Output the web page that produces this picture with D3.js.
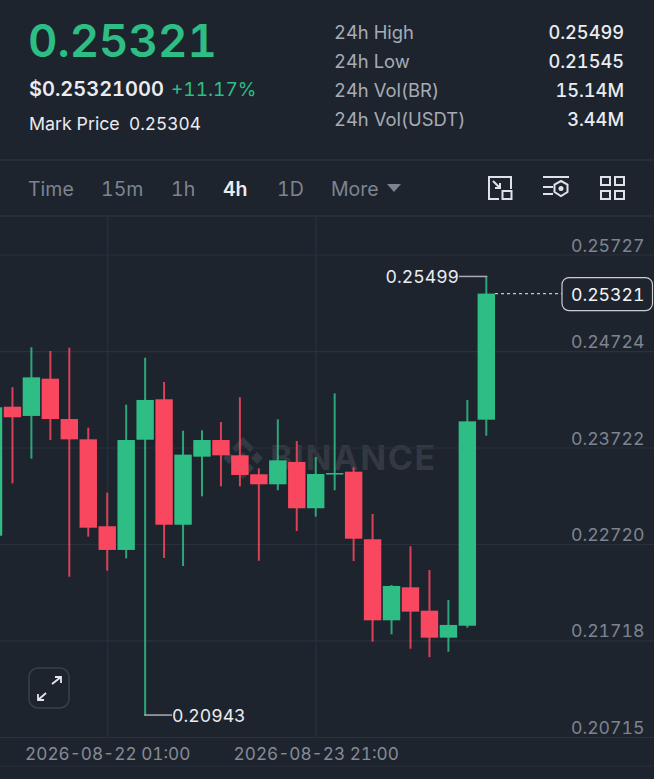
<!DOCTYPE html>
<html>
<head>
<meta charset="utf-8">
<script src="https://cdn.jsdelivr.net/npm/d3@7"></script>
<style>
  html, body { margin: 0; padding: 0; background: #1e242e; overflow: hidden; }
  svg { display: block; font-family: Inter, "Open Sans", sans-serif; font-feature-settings: "tnum" 1; font-variant-numeric: tabular-nums; }
</style>
</head>
<body>
<svg id="chart" width="654" height="779"></svg>
<script>
"use strict";

const candleTimes = ["2026-08-21 01:00", "2026-08-21 05:00", "2026-08-21 09:00", "2026-08-21 13:00", "2026-08-21 17:00",
  "2026-08-21 21:00", "2026-08-22 01:00", "2026-08-22 05:00", "2026-08-22 09:00", "2026-08-22 13:00", "2026-08-22 17:00",
  "2026-08-22 21:00", "2026-08-23 01:00", "2026-08-23 05:00", "2026-08-23 09:00", "2026-08-23 13:00", "2026-08-23 17:00",
  "2026-08-23 21:00", "2026-08-24 01:00", "2026-08-24 05:00", "2026-08-24 09:00", "2026-08-24 13:00", "2026-08-24 17:00",
  "2026-08-24 21:00", "2026-08-25 01:00", "2026-08-25 05:00", "2026-08-25 09:00"];
const openPrices = [0.22806, 0.24146, 0.24050, 0.24437, 0.24018, 0.23807, 0.22904, 0.22658, 0.23803, 0.24223, 0.22920,
  0.23627, 0.23800, 0.23641, 0.23444, 0.23340, 0.23572, 0.23091, 0.23450, 0.23471, 0.22769, 0.21927, 0.22270, 0.22027,
  0.21747, 0.21871, 0.24011];
const highPrices = [0.24140, 0.24348, 0.24763, 0.24725, 0.24759, 0.23928, 0.23253, 0.24167, 0.24655, 0.24403, 0.23897,
  0.23901, 0.23987, 0.24244, 0.23506, 0.24015, 0.23790, 0.23624, 0.24285, 0.23517, 0.23032, 0.22294, 0.22696, 0.22450,
  0.22138, 0.24216, 0.25499];
const lowPrices = [0.22806, 0.23350, 0.23606, 0.23800, 0.22380, 0.22796, 0.22443, 0.22571, 0.20943, 0.22575, 0.22491,
  0.23215, 0.23319, 0.23319, 0.22546, 0.23278, 0.22855, 0.23004, 0.23278, 0.22543, 0.21705, 0.21782, 0.21632, 0.21545,
  0.21601, 0.21851, 0.23845];
const closePrices = [0.24140, 0.24036, 0.24451, 0.24018, 0.23807, 0.22889, 0.22658, 0.23800, 0.24216, 0.22920, 0.23648,
  0.23800, 0.23641, 0.23437, 0.23340, 0.23589, 0.23091, 0.23447, 0.23457, 0.22775, 0.21927, 0.22284, 0.22017, 0.21747,
  0.21879, 0.23994, 0.25321];
const priceTicks = [0.25727, 0.24724, 0.23722, 0.22720, 0.21718, 0.20715];
const timeTicks = ["2026-08-22 01:00", "2026-08-23 21:00"];
const statLabels = ["24h High", "24h Low", "24h Vol(BR)", "24h Vol(USDT)"];
const statValues = ["0.25499", "0.21545", "15.14M", "3.44M"];
const tabLabels = ["Time", "15m", "1h", "4h", "1D", "More"];
const activeTab = "4h";
const lastPrice = 0.25321;
const markPrice = "0.25304";
const usdPrice = "$0.25321000";
const changePct = "+11.17%";
const dayHigh = 0.25499;
const dayLow = 0.20943;

const BG = "#1e242e";
const GREEN = "#2ebd85";
const RED = "#f9475f";
const GRID = "#2b313c";
const parseTime = d3.utcParse("%Y-%m-%d %H:%M");
const formatTime = d3.utcFormat("%Y-%m-%d %H:%M");
const svg = d3.select("#chart");

function label(parent, x, y, str, size, fill, weight, anchor) {
    return parent.append("text")
        .attr("x", x).attr("y", y)
        .attr("font-size", size)
        .attr("fill", fill)
        .attr("font-weight", weight || 400)
        .attr("text-anchor", anchor || "start")
        .text(str);
}

function drawHeader() {
    label(svg, 28, 57, lastPrice.toFixed(5), 45.5, GREEN, 600);
    label(svg, 29, 96, usdPrice, 20, "#eaecef", 600);
    label(svg, 171, 96, changePct, 19, GREEN, 400);
    label(svg, 29, 130, "Mark Price", 17.8, "#eaecef");
    label(svg, 129, 130, markPrice, 17.3, "#eaecef");

    statLabels.forEach((s, i) => {
        label(svg, 334, 39 + i * 29, s, 18.4, "#a6acb6");
        label(svg, 624, 39 + i * 29, statValues[i], 18.2, "#eaecef", 500, "end");
    });

    svg.append("line").attr("x1", 0).attr("x2", 654).attr("y1", 160).attr("y2", 160).attr("stroke", GRID).attr("stroke-width", 1.5);
    svg.append("line").attr("x1", 0).attr("x2", 654).attr("y1", 216).attr("y2", 216).attr("stroke", GRID).attr("stroke-width", 1.5);

    const tabX = [28, 101, 171, 223, 277, 331];
    tabLabels.forEach((t, i) => {
        const on = t === activeTab;
        label(svg, tabX[i], 196, t, 19.5, on ? "#eaecef" : "#7d8490", on ? 600 : 400);
    });
    svg.append("path").attr("d", "M387 184H401L394 192Z").attr("fill", "#7d8490");

    // toolbar icons
    const ic = svg.append("g").attr("fill", "none").attr("stroke", "#dfe2e7").attr("stroke-width", 2);
    ic.append("path").attr("d", "M500 177H511V189M499 199H489V177H500M493 181L500 188M500 183V188H495");
    ic.append("rect").attr("x", 502.5).attr("y", 191).attr("width", 9).attr("height", 8);
    ic.append("path").attr("d", "M543 177H569M543 187H553M543 194H553");
    ic.append("path").attr("d", "M561 181L567.500 184.500V192L561 196L554.500 192V184.500Z");
    ic.append("circle").attr("cx", 561).attr("cy", 188.500).attr("r", 1.5).attr("fill", "#dfe2e7");
    [[601, 177], [615, 177], [601, 191], [615, 191]].forEach(p => {
        ic.append("rect").attr("x", p[0]).attr("y", p[1]).attr("width", 9).attr("height", 8);
    });
}

function drawChart() {
    const times = candleTimes.map(parseTime);
    const xScale = d3.scaleUtc().domain(d3.extent(times)).range([-6.5, 486.3]);
    const yScale = d3.scaleLinear().domain([0.25727, 0.20715]).range([254.5, 737]);
    const bodyW = 17.4;

    // watermark goes under the grid and candles
    const mark = svg.append("g").attr("fill", "#ffffff").attr("fill-opacity", 0.1);
    mark.append("text").attr("x", 270).attr("y", 470).attr("font-size", 34).attr("font-weight", 700)
        .attr("letter-spacing", 1.7).text("BINANCE");
    mark.append("path").attr("d", "M243 437L254 448L250 452L243 445L236 452L232 448Z"
        + "M243 479L254 468L250 464L243 471L236 464L232 468Z"
        + "M243 452L249 458L243 464L237 458Z"
        + "M257 452L263 458L257 464L251 458Z"
        + "M229 452L235 458L229 464L223 458Z");

    const yAxis = d3.axisRight(yScale)
        .tickValues(priceTicks)
        .tickSize(654)
        .tickFormat(d3.format(".5f"));
    const yG = svg.append("g").call(yAxis);
    yG.select(".domain").remove();
    yG.selectAll("line").attr("stroke", GRID).attr("stroke-width", 1.2);
    yG.selectAll("text")
        .attr("x", 644.5).attr("y", -3.5).attr("dy", 0)
        .attr("text-anchor", "end")
        .attr("font-size", 17.7)
        .attr("font-family", "Inter")
        .attr("fill", "#7d8490");

    const xAxis = d3.axisBottom(xScale)
        .tickValues(timeTicks.map(parseTime))
        .tickSize(0)
        .tickFormat(formatTime);
    const xG = svg.append("g").attr("transform", "translate(0,737)").call(xAxis);
    xG.select(".domain").remove();
    xG.selectAll("text")
        .attr("y", 23).attr("dy", 0)
        .attr("font-size", 17.2)
        .attr("font-family", "Inter")
        .attr("fill", "#858b96");
    xG.selectAll(".tick").append("line")
        .attr("y1", 0).attr("y2", -521)
        .attr("stroke", GRID).attr("stroke-width", 1.2);
    svg.append("line").attr("x1", 0).attr("x2", 654).attr("y1", 766).attr("y2", 766).attr("stroke", GRID);

    const candles = times.map((t, i) => ({
        t, open: openPrices[i], high: highPrices[i], low: lowPrices[i], close: closePrices[i]
    }));
    const colorOf = d => d.close >= d.open ? GREEN : RED;

    svg.append("g").selectAll("line").data(candles).join("line")
        .attr("x1", d => xScale(d.t)).attr("x2", d => xScale(d.t))
        .attr("y1", d => yScale(d.high)).attr("y2", d => yScale(d.low))
        .attr("stroke", colorOf).attr("stroke-opacity", 0.85).attr("stroke-width", 2);
    svg.append("g").selectAll("rect").data(candles).join("rect")
        .attr("x", d => xScale(d.t) - bodyW / 2)
        .attr("width", bodyW)
        .attr("y", d => yScale(Math.max(d.open, d.close)))
        .attr("height", d => Math.max(1.5, Math.abs(yScale(d.open) - yScale(d.close))))
        .attr("fill", colorOf);

    // high / low callouts
    const hi = candles[highPrices.indexOf(dayHigh)];
    const lo = candles[lowPrices.indexOf(dayLow)];
    svg.append("line").attr("x1", 459).attr("x2", xScale(hi.t) + 1)
        .attr("y1", yScale(dayHigh)).attr("y2", yScale(dayHigh))
        .attr("stroke", "#a9adb3").attr("stroke-width", 1.5);
    label(svg, 385.5, yScale(dayHigh) + 7, dayHigh.toFixed(5), 17.7, "#eaecef");
    svg.append("line").attr("x1", xScale(lo.t) - 1).attr("x2", 172)
        .attr("y1", yScale(dayLow)).attr("y2", yScale(dayLow))
        .attr("stroke", "#a9adb3").attr("stroke-width", 1.5);
    label(svg, 172, yScale(dayLow) + 7, dayLow.toFixed(5), 17.7, "#eaecef");

    // last price tag
    svg.append("line").attr("x1", 495).attr("x2", 562)
        .attr("y1", yScale(lastPrice)).attr("y2", yScale(lastPrice))
        .attr("stroke", "#c4c7cc").attr("stroke-width", 1.2).attr("stroke-dasharray", "3 3");
    svg.append("rect").attr("x", 562).attr("y", yScale(lastPrice) - 16).attr("width", 90.5).attr("height", 33).attr("rx", 7)
        .attr("fill", BG).attr("stroke", "#c9ccd1").attr("stroke-width", 1.2);
    label(svg, 644.5, yScale(lastPrice) + 7, lastPrice.toFixed(5), 17.7, "#f2f3f5", 400, "end");

    // expand button
    svg.append("rect").attr("x", 29).attr("y", 668).attr("width", 40).attr("height", 40).attr("rx", 9)
        .attr("fill", "none").attr("stroke", "#39404c").attr("stroke-width", 1.5);
    svg.append("path").attr("d", "M52 684L61 677M55 677H61V683M46 693L38 700M38 694V700H44")
        .attr("fill", "none").attr("stroke", "#e4e6ea").attr("stroke-width", 1.8);
}

drawHeader();
drawChart();
</script>
</body>
</html>
